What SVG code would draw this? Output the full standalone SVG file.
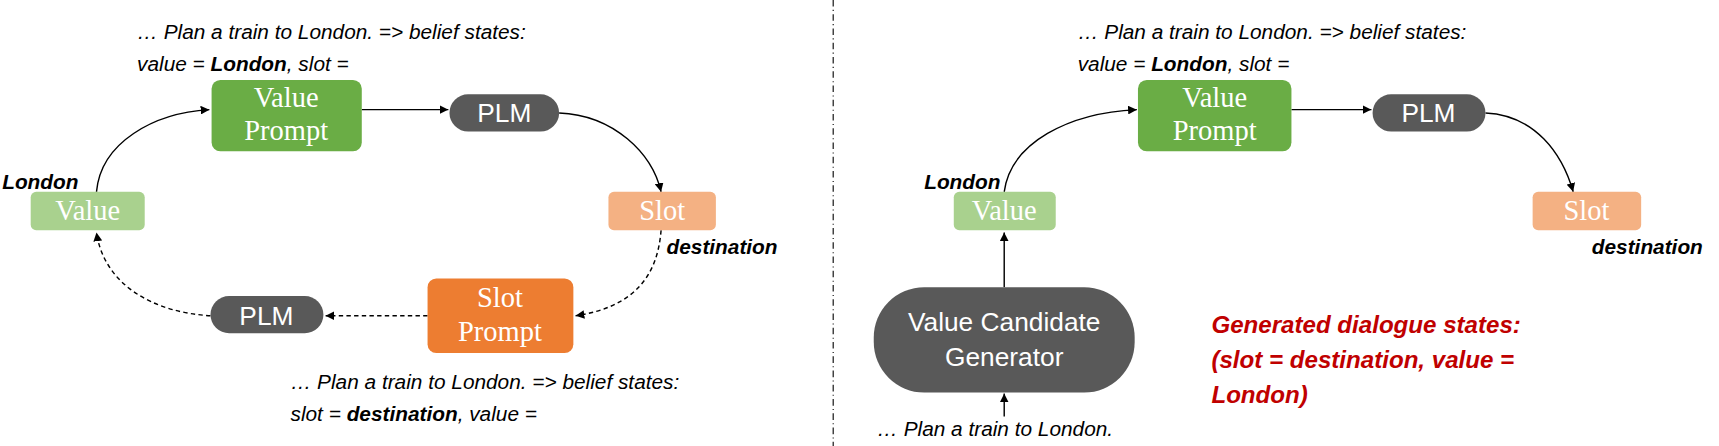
<svg xmlns="http://www.w3.org/2000/svg" width="1719" height="446" viewBox="0 0 1719 446">
<defs>
<marker id="ah" viewBox="0 0 10 10" refX="10" refY="5" markerWidth="8" markerHeight="8" markerUnits="userSpaceOnUse" orient="auto"><path d="M0,0 L10,5 L0,10 z" fill="#000"/></marker>
<style>
.n{font-family:"Liberation Serif",serif;font-size:26px;fill:#fff;text-anchor:middle}
.p{font-family:"Liberation Sans",sans-serif;font-size:24px;fill:#fff;text-anchor:middle}
.t{font-family:"Liberation Sans",sans-serif;font-size:19px;font-style:italic;fill:#000}
.b{font-weight:bold}
.c{fill:none;stroke:#000;stroke-width:1.3;marker-end:url(#ah)}
.d{stroke-dasharray:4,3}
.r{font-family:"Liberation Sans",sans-serif;font-size:22px;font-style:italic;font-weight:bold;fill:#c00000}
</style>
</defs>
<rect width="1719" height="446" fill="#fff"/>
<g transform="scale(1.0963)">
<line x1="760" y1="0" x2="760" y2="410" stroke="#000" stroke-dasharray="6,3,1,3"/>
<g id="connectors">
<path class="c" d="M88,175 C92,130 140,103 191,100"/>
<path class="c" d="M330,100 L409,100"/>
<path class="c" d="M510,103 C560,105 595,140 603,175"/>
<path class="c d" d="M603,210 C600,250 580,280 525,288"/>
<path class="c d" d="M390,288 L297,288"/>
<path class="c d" d="M192,288 C140,285 95,260 88,212"/>
<path class="c" d="M916,175 C922,130 975,103 1037,100"/>
<path class="c" d="M1178,100 L1251,100"/>
<path class="c" d="M1355,103 C1400,105 1425,140 1435,175"/>
<path class="c" d="M916,262 L916,212"/>
<path class="c" d="M916,380 L916,359"/>
</g>
<g id="vp1"><rect x="193" y="73" width="137" height="65" rx="8" fill="#6aad45"/><text class="n" x="261" y="98">Value</text><text class="n" x="261" y="128">Prompt</text></g>
<g id="plm1"><rect x="410" y="86" width="100" height="34" rx="17" fill="#595959"/><text class="p" x="460" y="111">PLM</text></g>
<g id="slot1"><rect x="555" y="175" width="98" height="35" rx="5" fill="#f4b183"/><text class="n" x="604" y="201">Slot</text></g>
<g id="sp1"><rect x="390" y="254" width="133" height="68" rx="8" fill="#ed7d31"/><text class="n" x="456" y="280">Slot</text><text class="n" x="456" y="311">Prompt</text></g>
<g id="plm2"><rect x="192" y="270" width="103" height="34" rx="17" fill="#595959"/><text class="p" x="243" y="296">PLM</text></g>
<g id="val1"><rect x="28" y="175" width="104" height="35" rx="5" fill="#a9d18e"/><text class="n" x="80" y="201">Value</text></g>
<text class="t b" x="2" y="172">London</text>
<text class="t b" x="608" y="232">destination</text>
<text class="t" x="125" y="36">… Plan a train to London. =&gt; belief states:</text>
<text class="t" x="125" y="65">value = <tspan class="b">London</tspan>, slot =</text>
<text class="t" x="265" y="355">… Plan a train to London. =&gt; belief states:</text>
<text class="t" x="265" y="384">slot = <tspan class="b">destination</tspan>, value =</text>
<g id="vp2"><rect x="1038" y="73" width="140" height="65" rx="8" fill="#6aad45"/><text class="n" x="1108" y="98">Value</text><text class="n" x="1108" y="128">Prompt</text></g>
<g id="plm3"><rect x="1252" y="86" width="103" height="34" rx="17" fill="#595959"/><text class="p" x="1303" y="111">PLM</text></g>
<g id="slot2"><rect x="1398" y="175" width="99" height="35" rx="5" fill="#f4b183"/><text class="n" x="1447" y="201">Slot</text></g>
<g id="val2"><rect x="870" y="175" width="93" height="35" rx="5" fill="#a9d18e"/><text class="n" x="916" y="201">Value</text></g>
<g id="vcg"><rect x="797" y="262" width="238" height="96" rx="46" fill="#595959"/><text class="p" x="916" y="302">Value Candidate</text><text class="p" x="916" y="334">Generator</text></g>
<text class="t b" x="843" y="172">London</text>
<text class="t b" x="1452" y="232">destination</text>
<text class="t" x="983" y="36">… Plan a train to London. =&gt; belief states:</text>
<text class="t" x="983" y="65">value = <tspan class="b">London</tspan>, slot =</text>
<text class="t" x="800" y="398">… Plan a train to London.</text>
<text class="r" x="1105" y="304">Generated dialogue states:</text>
<text class="r" x="1105" y="336">(slot = destination, value =</text>
<text class="r" x="1105" y="368">London)</text>
</g>
</svg>
